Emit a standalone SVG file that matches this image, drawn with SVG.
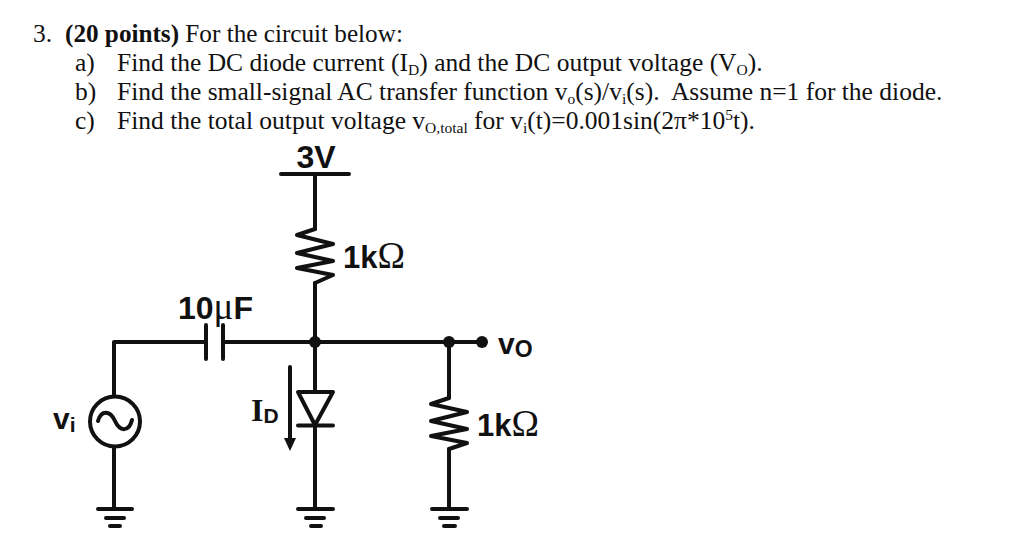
<svg xmlns="http://www.w3.org/2000/svg" width="1024" height="549" viewBox="0 0 1024 549">
<style>
.q{font-family:"Liberation Serif",serif;font-size:25.500px;fill:#111}
.s{font-size:15.500px}
.l{font-family:"Liberation Sans",sans-serif;font-weight:bold;font-size:31px;fill:#111}
.v{font-size:30px}
.u{font-size:21px}
.g{font-family:"Liberation Serif",serif;font-weight:normal;font-size:37px}
.i{font-family:"Liberation Serif",serif;font-weight:bold;font-size:32px;fill:#111}
.w{fill:none;stroke:#111;stroke-width:4;stroke-linecap:round;stroke-linejoin:round}
.d{fill:#111}
</style>
<rect width="1024" height="549" fill="#fff"/>
<g id="question">
<text class="q" x="33" y="42">3.</text>
<text class="q" x="65" y="42" style="font-size:25.200px"><tspan font-weight="bold">(20 points)</tspan> For the circuit below:</text>
<text class="q" x="75" y="71">a)</text>
<text class="q" x="117" y="71">Find the DC diode current (I<tspan class="s" dy="4">D</tspan><tspan dy="-4">) and the DC output voltage (V</tspan><tspan class="s" dy="4">O</tspan><tspan dy="-4">).</tspan></text>
<text class="q" x="75" y="100">b)</text>
<text class="q" x="117" y="100" xml:space="preserve">Find the small-signal AC transfer function v<tspan class="s" dy="4">o</tspan><tspan dy="-4">(s)/v</tspan><tspan class="s" dy="4">i</tspan><tspan dy="-4">(s).  Assume n=1 for the diode.</tspan></text>
<text class="q" x="75" y="129">c)</text>
<text class="q" x="117" y="129">Find the total output voltage v<tspan class="s" dy="4">O,total</tspan><tspan dy="-4"> for v</tspan><tspan class="s" dy="4">i</tspan><tspan dy="-4">(t)=0.001sin(2π*10</tspan><tspan class="s" dy="-9">5</tspan><tspan dy="9">t).</tspan></text>
</g>
<g id="connectors" class="w">
<path d="M315 174V229M315 283V342"/>
<path d="M114 395V342H206M223 342H482"/>
<path d="M114 447V509"/>
<path d="M315 342V392M315 425V509"/>
<path d="M449 342V398M449 449V509"/>
</g>
<g id="supply"><path class="w" d="M281 174H349"/><text class="l" x="316" y="168" text-anchor="middle" style="font-size:32px">3V</text></g>
<g id="r1"><path class="w" d="M315 229L297 235L333 244L297 253L333 261L297 268L333 275L315 283"/><text class="l" x="343" y="268">1k<tspan class="g">Ω</tspan></text></g>
<g id="c1"><path class="w" d="M206 325V359M223 325V359"/><text class="l" x="178" y="319" style="font-size:32px">10<tspan class="g">μ</tspan>F</text></g>
<g id="source"><circle class="w" cx="115" cy="421.500" r="25"/><path class="w" d="M98 421C101 410 110 410 115 421C120 432 129 432 132 420"/><text class="l v" x="53" y="429">v<tspan class="u" dy="3">i</tspan></text></g>
<g id="diode"><path class="w" d="M298 392H333L315 425ZM298 425.500H333"/></g>
<g id="current"><path class="w" d="M290 367V440"/><path class="d" d="M284 438H296L290 451Z"/><text class="i" x="251" y="421">I<tspan class="l u" dy="2">D</tspan></text></g>
<g id="r2"><path class="w" d="M449 398L431 404L467 412L431 421L467 429L431 436L467 443L449 449"/><text class="l" x="477" y="436">1k<tspan class="g">Ω</tspan></text></g>
<g id="output"><circle class="d" cx="315" cy="342" r="6"/><circle class="d" cx="449" cy="342" r="6"/><circle class="d" cx="482" cy="342" r="6"/><text class="l v" x="498" y="354">v<tspan class="u" dy="3" style="font-size:23px">O</tspan></text></g>
<g id="gnd1" class="w"><path d="M98 509H132M106 518H124M110 526H120"/></g>
<g id="gnd2" class="w"><path d="M298 509H333M306 518H324M311 526H321"/></g>
<g id="gnd3" class="w"><path d="M432 509H467M440 518H458M444 526H455"/></g>
</svg>
